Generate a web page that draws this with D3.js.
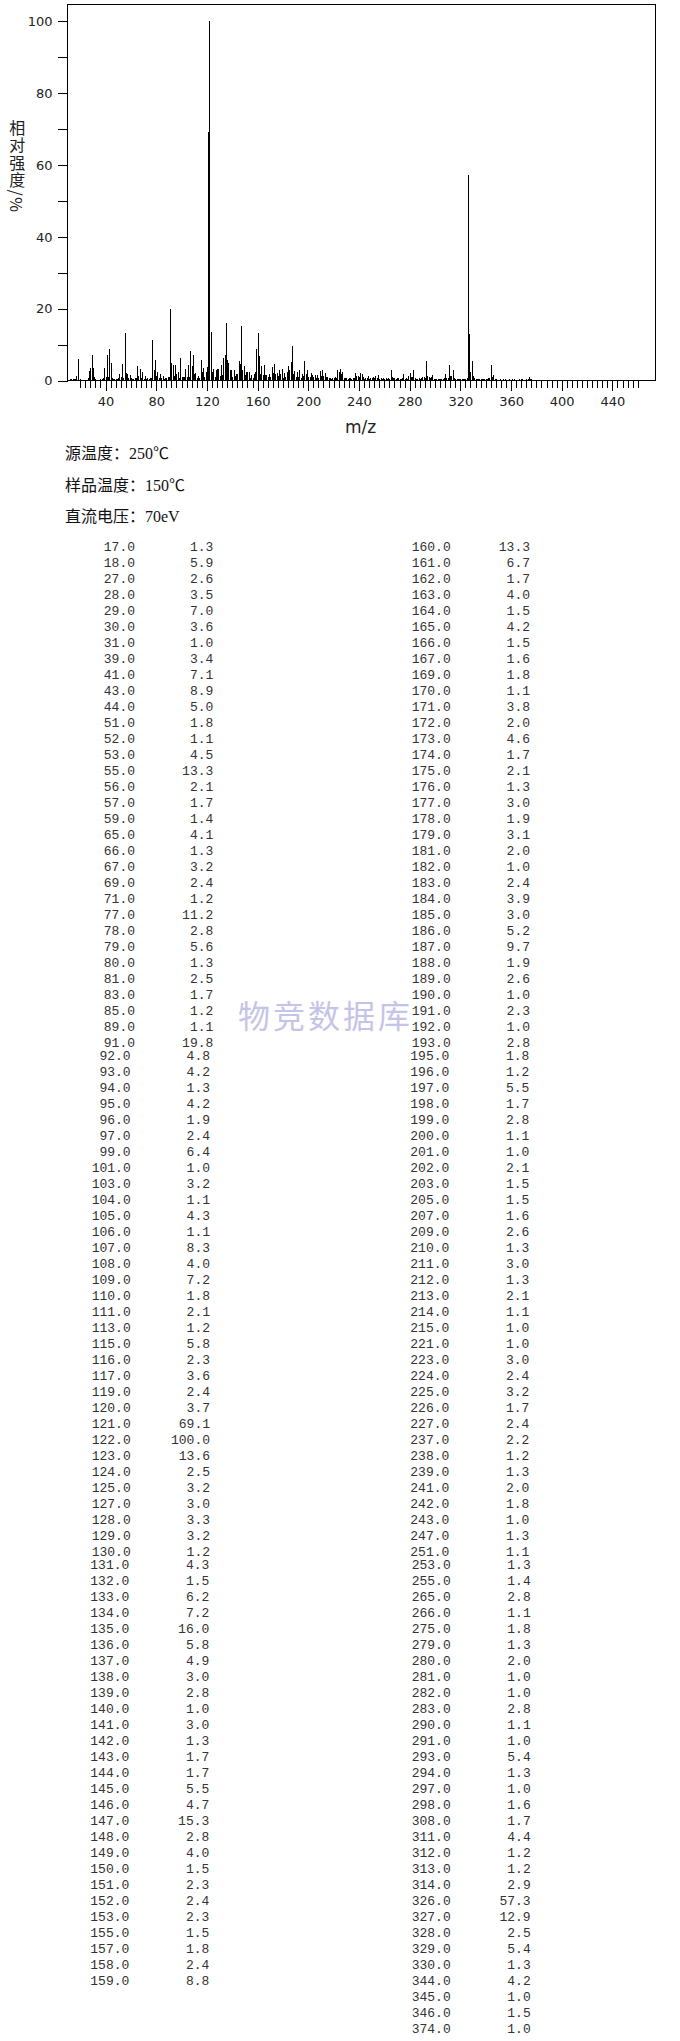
<!DOCTYPE html>
<html><head><meta charset="utf-8">
<script src="https://cdn.jsdelivr.net/npm/d3@7/dist/d3.min.js"></script>
<style>body{margin:0;background:#fff}svg{display:block}</style>
</head><body>
<script>
// ---- data: listed peaks (m/z, relative intensity %) ----
const peakMz = [17,18,27,28,29,30,31,39,41,43,44,51,52,53,55,56,57,59,65,66,67,69,71,
  77,78,79,80,81,83,85,89,91,
  92,93,94,95,96,97,99,101,103,104,105,106,107,108,109,
  110,111,113,115,116,117,119,120,121,122,123,124,125,127,128,129,130,
  131,132,133,134,135,136,
  137,138,139,140,141,142,143,144,145,146,147,148,149,150,151,152,153,155,157,158,159,
  160,161,162,163,164,165,166,167,169,170,171,172,173,174,175,176,177,178,179,181,182,183,184,
  185,186,187,188,189,190,191,192,193,
  195,196,197,198,199,200,201,202,203,205,207,209,210,211,212,
  213,214,215,221,223,224,225,226,227,237,238,239,241,242,243,247,251,
  253,255,265,266,275,279,
  280,281,282,283,290,291,293,294,297,298,308,311,312,313,314,326,327,328,329,330,344,345,346,374];
const peakInt = [1.3,5.9,2.6,3.5,7.0,3.6,1.0,3.4,7.1,8.9,5.0,1.8,1.1,4.5,13.3,2.1,1.7,1.4,4.1,1.3,3.2,2.4,1.2,
  11.2,2.8,5.6,1.3,2.5,1.7,1.2,1.1,19.8,
  4.8,4.2,1.3,4.2,1.9,2.4,6.4,1.0,3.2,1.1,4.3,1.1,8.3,4.0,7.2,
  1.8,2.1,1.2,5.8,2.3,3.6,2.4,3.7,69.1,100.0,13.6,2.5,3.2,3.0,3.3,3.2,1.2,
  4.3,1.5,6.2,7.2,16.0,5.8,
  4.9,3.0,2.8,1.0,3.0,1.3,1.7,1.7,5.5,4.7,15.3,2.8,4.0,1.5,2.3,2.4,2.3,1.5,1.8,2.4,8.8,
  13.3,6.7,1.7,4.0,1.5,4.2,1.5,1.6,1.8,1.1,3.8,2.0,4.6,1.7,2.1,1.3,3.0,1.9,3.1,2.0,1.0,2.4,3.9,
  3.0,5.2,9.7,1.9,2.6,1.0,2.3,1.0,2.8,
  1.8,1.2,5.5,1.7,2.8,1.1,1.0,2.1,1.5,1.5,1.6,2.6,1.3,3.0,1.3,
  2.1,1.1,1.0,1.0,3.0,2.4,3.2,1.7,2.4,2.2,1.2,1.3,2.0,1.8,1.0,1.3,1.1,
  1.3,1.4,2.8,1.1,1.8,1.3,
  2.0,1.0,1.0,2.8,1.1,1.0,5.4,1.3,1.0,1.6,1.7,4.4,1.2,1.2,2.9,57.3,12.9,2.5,5.4,1.3,4.2,1.0,1.5,1.0];
// ---- minor peaks (< 1 %), estimated from the plot ----
const minorMz = [12,13,14,15,16,19,20,26,32,33,35,36,37,38,40,42,45,46,47,48,49,50,54,58,60,61,62,63,64,68,70,72,73,74,75,76,
  82,84,86,87,88,90,98,100,102,112,114,118,126,154,156,168,180,194,204,206,208,216,217,218,219,220,222,
  228,229,230,231,232,233,234,235,236,240,244,245,246,248,249,250,252,254,256,257,258,259,260,261,262,263,264,
  267,268,269,270,271,272,273,274,276,277,278,284,285,286,287,288,289,292,295,296,299,300,301,302,303,304,305,306,307,
  309,310,315,316,317,318,319,320,321,322,323,324,325,331,332,333,334,335,336,337,338,339,340,341,342,343,
  347,348,350,351,352,354,355,356,358,359,361,362,364,366,368,369,370,372,373,375,376];
const minorInt = [0.3,0.3,0.4,0.4,0.3,0.2,0.3,0.8,0.4,0.2,0.2,0.3,0.4,0.7,0.9,0.9,0.7,0.3,0.4,0.3,0.4,0.6,0.8,0.6,0.6,0.4,0.4,0.7,0.6,0.6,0.5,0.4,0.7,0.5,0.6,0.8,
  0.7,0.6,0.5,0.6,0.8,0.9,0.8,0.9,0.9,0.8,0.7,0.9,0.9,0.8,0.7,0.9,0.8,0.8,0.9,0.8,0.7,0.6,0.8,0.5,0.7,0.6,0.8,
  0.7,0.8,0.6,0.5,0.7,0.6,0.5,0.8,0.6,0.9,0.5,0.7,0.6,0.5,0.7,0.6,0.8,0.7,0.5,0.6,0.4,0.6,0.5,0.7,0.4,0.6,0.5,
  0.6,0.7,0.5,0.6,0.8,0.4,0.5,0.6,0.5,0.7,0.4,0.6,0.5,0.4,0.6,0.5,0.7,0.6,0.9,0.7,0.5,0.4,0.4,0.3,0.4,0.5,0.3,0.5,0.6,
  0.7,0.8,0.6,0.5,0.4,0.3,0.4,0.3,0.4,0.3,0.4,0.5,0.8,0.6,0.4,0.3,0.3,0.4,0.3,0.4,0.3,0.5,0.4,0.5,0.6,0.7,
  0.4,0.3,0.2,0.3,0.2,0.3,0.3,0.2,0.3,0.2,0.3,0.3,0.2,0.3,0.4,0.3,0.2,0.4,0.5,0.4,0.3];
// ---- axis ticks / texts ----
const xMajorTicks = [40,80,120,160,200,240,280,320,360,400,440];
const xMinorTicks = d3.range(20, 461, 4);
const yTicks = [0,10,20,30,40,50,60,70,80,90,100];
const yTickLabels = [0,20,40,60,80,100];
const xTitle = "m/z";
const yTitle = "相对强度/%";
const conditions = ["源温度：250℃","样品温度：150℃","直流电压：70eV"];
const watermark = "物竞数据库";
const leftCount = 91; // rows in the left table column

const W = 680, H = 2041;
const svg = d3.select("body").append("svg").attr("width", W).attr("height", H)
  .style("font-family","'DejaVu Sans',sans-serif");
svg.append("rect").attr("width",W).attr("height",H).attr("fill","#fff");

const x = d3.scaleLinear().domain([10, 474]).range([67.5, 655.5]);
const y = d3.scaleLinear().domain([0, 104.7]).range([380.5, 4.5]);

// frame
svg.append("rect").attr("x",67.5).attr("y",4.5).attr("width",588).attr("height",376)
  .attr("fill","none").attr("stroke","#000").attr("stroke-width",1).attr("shape-rendering","crispEdges");

// y axis
const yAxis = d3.axisLeft(y).tickValues(yTicks).tickSize(10).tickPadding(5)
  .tickFormat(d => yTickLabels.includes(d) ? d : "");
const gy = svg.append("g").attr("transform","translate(67.5,0)").call(yAxis);
gy.select(".domain").remove();
gy.selectAll("line").attr("stroke","#000").attr("shape-rendering","crispEdges");
gy.selectAll("text").attr("font-size",13).attr("fill","#222").attr("font-family","'DejaVu Sans',sans-serif");

// x axis: minor + major ticks
const gxm = svg.append("g").attr("transform","translate(0,380.5)")
  .call(d3.axisBottom(x).tickValues(xMinorTicks.filter(d => !xMajorTicks.includes(d))).tickSize(7).tickFormat(""));
gxm.select(".domain").remove();
gxm.selectAll("line").attr("stroke","#000").attr("shape-rendering","crispEdges");
const gx = svg.append("g").attr("transform","translate(0,380.5)")
  .call(d3.axisBottom(x).tickValues(xMajorTicks).tickSize(10.5).tickPadding(6));
gx.select(".domain").remove();
gx.selectAll("line").attr("stroke","#000").attr("shape-rendering","crispEdges");
gx.selectAll("text").attr("font-size",13).attr("fill","#222").attr("font-family","'DejaVu Sans',sans-serif");

// bars
const bars = minorMz.map((m,i)=>({mz:m,v:minorInt[i]})).concat(peakMz.map((m,i)=>({mz:m,v:peakInt[i]})));
svg.append("g").selectAll("line").data(bars).join("line")
  .attr("x1", d => Math.round(x(d.mz)) + 0.5).attr("x2", d => Math.round(x(d.mz)) + 0.5)
  .attr("y1", y(0)).attr("y2", d => y(d.v))
  .attr("stroke","#000").attr("stroke-width",1).attr("shape-rendering","crispEdges");

// titles
svg.append("text").attr("x",360.5).attr("y",433).attr("text-anchor","middle")
  .attr("font-size",17).attr("fill","#222").text(xTitle);
svg.append("text").attr("x",17.3).attr("y",119.5)
  .style("writing-mode","vertical-rl").attr("letter-spacing",1.5)
  .attr("font-family","'Noto Sans CJK SC',sans-serif").attr("font-size",16).attr("fill","#222").text(yTitle);

// condition lines
const cy = [459, 491, 522];
conditions.forEach((t,i) => {
  svg.append("text").attr("x",65).attr("y",cy[i])
    .attr("font-family","'Liberation Serif','Noto Sans CJK SC',serif").attr("font-size",16)
    .attr("fill","#111").text(t);
});

// watermark (drawn under the table text)
svg.append("text").attr("x",238).attr("y",1028)
  .attr("font-family","'Noto Sans CJK SC',sans-serif").attr("font-size",32)
  .attr("letter-spacing",3).attr("fill","#c4c4e8").text(watermark);

// table
const rows = peakMz.map((m,i)=>({mz:m, v:peakInt[i], col: i < leftCount ? 0 : 1, r: i < leftCount ? i : i - leftCount}));
const mzRight = [[135,130.7,129.3],[450.7,449.3,450.7]];
const vRight = [[213.3,210,209.3],[530,529.3,530.7]];
const tg = svg.append("g").attr("font-family","'Liberation Mono','DejaVu Sans Mono',monospace")
  .attr("font-size",13).attr("fill","#333");
rows.forEach(d => {
  const b = Math.min(2, Math.floor(d.r/32));
  const by = 551 + d.r*16 - Math.floor(d.r/32)*3;
  tg.append("text").attr("x",mzRight[d.col][b]).attr("y",by).attr("text-anchor","end").text(d.mz.toFixed(1));
  tg.append("text").attr("x",vRight[d.col][b]).attr("y",by).attr("text-anchor","end").text(d.v.toFixed(1));
});
</script>
</body></html>
